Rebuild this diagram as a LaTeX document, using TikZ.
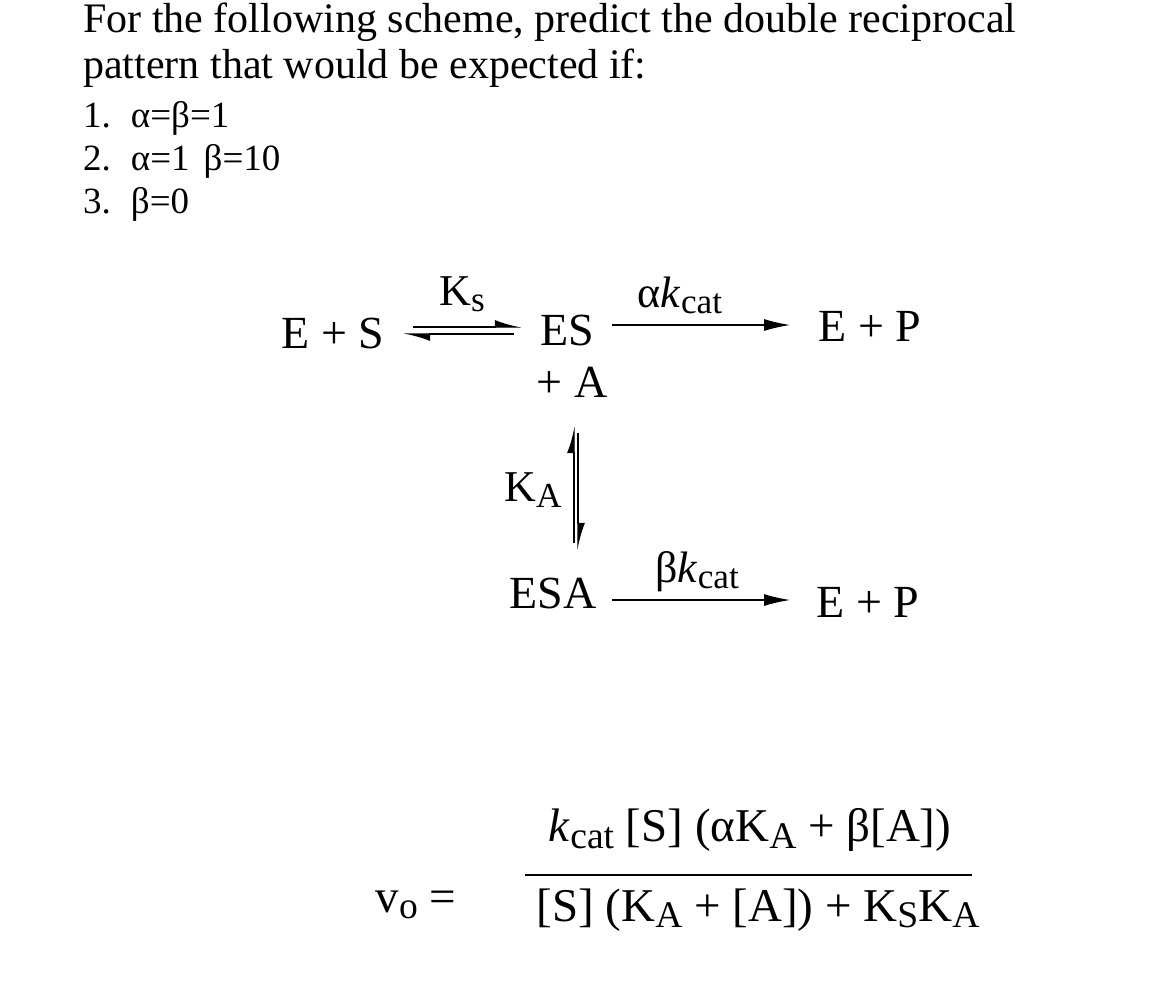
\documentclass[tikz,border=0pt]{standalone}
\usepackage{fontspec}
\setmainfont{Liberation Serif}
\usetikzlibrary{arrows.meta}
\newcommand{\sbs}[1]{\raisebox{-0.3ex}{\fontsize{0.8em}{1em}\selectfont #1}}
\begin{document}
\begin{tikzpicture}[x=1pt,y=-1pt,
  hdr/.style={anchor=base west,inner sep=0,font=\fontsize{42}{44}\selectfont},
  itm/.style={anchor=base west,inner sep=0,font=\fontsize{37}{40}\selectfont},
  chem/.style={inner sep=0,font=\fontsize{46}{50}\selectfont},
  lbl/.style={inner sep=0,font=\fontsize{44}{48}\selectfont},
  eq/.style={inner sep=0,font=\fontsize{47}{50}\selectfont},
  rx/.style={line width=1.2pt,-{Latex[length=26pt,width=12pt]}},
  hp/.style={line width=1.2pt,-{Latex[length=24pt,width=14pt,harpoon]}}]
\fill[white] (0,0) rectangle (1158,980);
\useasboundingbox (0,0) rectangle (1158,980);
\node[hdr] (h1) at (83,32) {For the following scheme, predict the double reciprocal};
\node[hdr] (h2) at (83,78) {pattern that would be expected if:};
\node[itm] (i1) at (83,127) {1.\hspace{20pt}α=β=1};
\node[itm] (i2) at (83,170) {2.\hspace{20pt}α=1\hspace{14pt}β=10};
\node[itm] (i3) at (83,213) {3.\hspace{20pt}β=0};
\node[chem] (es0) at (333,333) {E + S};
\node[chem] (es) at (567,330) {ES};
\node[chem] (pa) at (572,382) {+ A};
\node[chem] (ep1) at (870,326) {E + P};
\node[chem] (esa) at (553,593) {ESA};
\node[chem] (ep2) at (868,602) {E + P};
\node[lbl] (ks) at (462,294) {K\sbs{s}};
\node[lbl] (ka) at (533,490) {K\sbs{A}};
\node[lbl] (ak) at (680,295) {α\textit{k}\sbs{cat}};
\node[lbl] (bk) at (697,572) {β\textit{k}\sbs{cat}};
\coordinate (a1) at (413,327); \coordinate (a2) at (522,327);
\coordinate (b1) at (514,334); \coordinate (b2) at (403,334);
\draw[hp] (a1) -- (a2);
\draw[hp] (b1) -- (b2);
\coordinate (c1) at (574,543); \coordinate (c2) at (574,426);
\coordinate (d1) at (578,433); \coordinate (d2) at (578,550);
\draw[hp] (c1) -- (c2);
\draw[hp] (d1) -- (d2);
\coordinate (r1) at (612,325); \coordinate (r2) at (790,325);
\coordinate (s1) at (612,600); \coordinate (s2) at (790,600);
\draw[rx] (r1) -- (r2);
\draw[rx] (s1) -- (s2);
\node[eq] (vo) at (416,905) {v\sbs{o} =};
\draw[line width=1.2pt] (525,875) coordinate (f1) -- (972,875) coordinate (f2);
\node[eq] (num) at (750,830) {\textit{k}\sbs{cat} [S] (αK\sbs{A} + β[A])};
\node[eq] (den) at (758,910) {[S] (K\sbs{A} + [A]) + K\sbs{S}K\sbs{A}};
\end{tikzpicture}
\end{document}
